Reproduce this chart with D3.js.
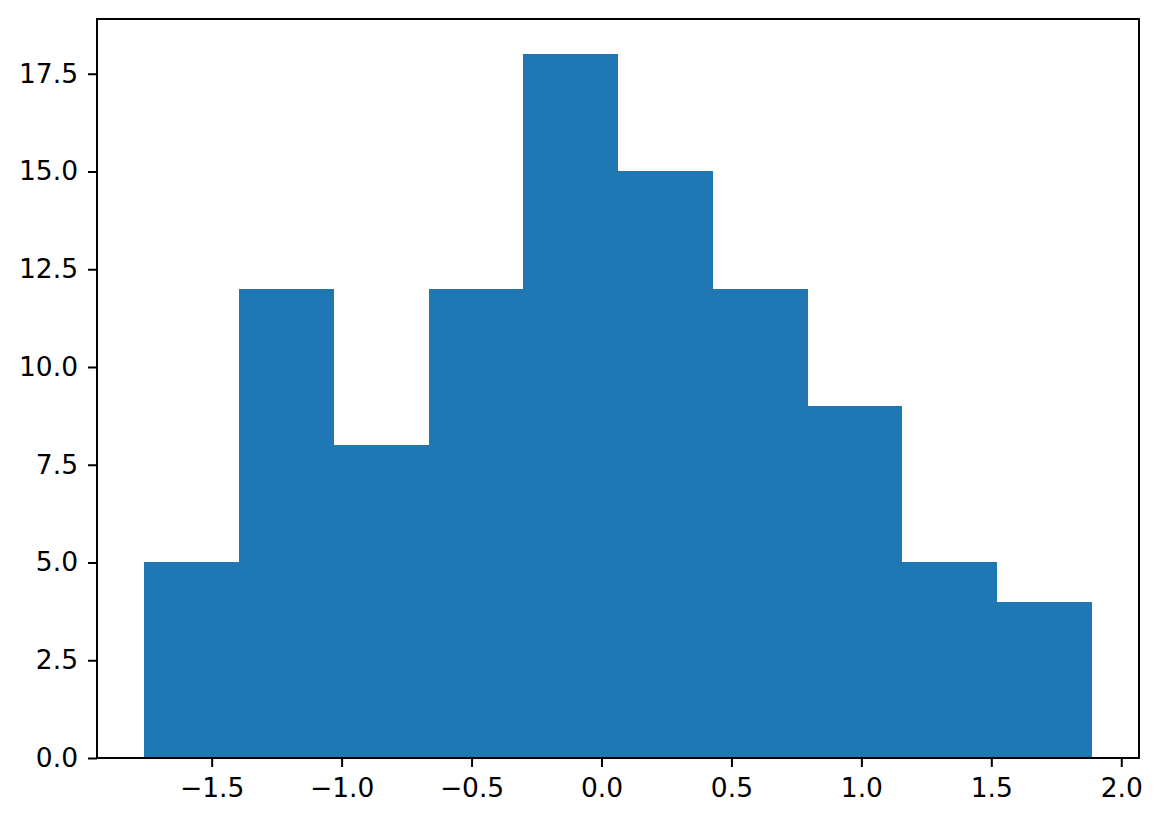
<!DOCTYPE html>
<html>
<head>
<meta charset="utf-8">
<script src="https://cdn.jsdelivr.net/npm/d3@7"></script>
<style>
  body { margin: 0; background: #fff; }
  svg { display: block; }
</style>
</head>
<body>
<script>
// histogram bins
const binEdges = [-1.759, -1.394, -1.030, -0.665, -0.301, 0.064, 0.428, 0.793, 1.157, 1.522, 1.886];
const counts = [5, 12, 8, 12, 18, 15, 12, 9, 5, 4];
const xTicks = [-1.5, -1.0, -0.5, 0.0, 0.5, 1.0, 1.5, 2.0];
const yTicks = [0, 2.5, 5, 7.5, 10, 12.5, 15, 17.5];

const width = 1161;
const height = 822;
const margin = { top: 19, right: 22, bottom: 64, left: 97 };

const bins = counts.map((c, i) => ({ x0: binEdges[i], x1: binEdges[i + 1], count: c }));

// matplotlib style 5% margins
const span = binEdges[binEdges.length - 1] - binEdges[0];
const x = d3.scaleLinear()
  .domain([binEdges[0] - span * 0.05, binEdges[binEdges.length - 1] + span * 0.05])
  .range([margin.left, width - margin.right]);

const y = d3.scaleLinear()
  .domain([0, d3.max(counts) * 1.05])
  .range([height - margin.bottom, margin.top]);

const svg = d3.select("body").append("svg")
  .attr("width", width)
  .attr("height", height);

// bars
svg.append("g")
  .attr("fill", "#1f77b4")
  .attr("shape-rendering", "crispEdges")
  .selectAll("rect")
  .data(bins)
  .join("rect")
  .attr("x", (d) => Math.round(x(d.x0)))
  .attr("width", (d) => Math.round(x(d.x1)) - Math.round(x(d.x0)))
  .attr("y", (d) => y(d.count))
  .attr("height", (d) => y(0) - y(d.count));

// axes
const xAxis = svg.append("g")
  .attr("transform", `translate(0,${height - margin.bottom})`)
  .call(d3.axisBottom(x).tickValues(xTicks).tickFormat(d3.format(".1f")).tickSize(9).tickSizeOuter(0).tickPadding(11));

const yAxis = svg.append("g")
  .attr("transform", `translate(${margin.left},0)`)
  .call(d3.axisLeft(y).tickValues(yTicks).tickFormat(d3.format(".1f")).tickSize(9).tickSizeOuter(0).tickPadding(10));

[xAxis, yAxis].forEach((g) => {
  g.attr("font-family", "DejaVu Sans").attr("font-size", 26.5);
  g.select(".domain").remove();
  g.selectAll(".tick line").attr("stroke", "#000").attr("stroke-width", 2);
  g.selectAll(".tick text").attr("fill", "#000");
});

// frame
svg.append("rect")
  .attr("x", margin.left)
  .attr("y", margin.top)
  .attr("width", width - margin.left - margin.right)
  .attr("height", height - margin.top - margin.bottom)
  .attr("fill", "none")
  .attr("stroke", "#000")
  .attr("stroke-width", 2);
</script>
</body>
</html>
